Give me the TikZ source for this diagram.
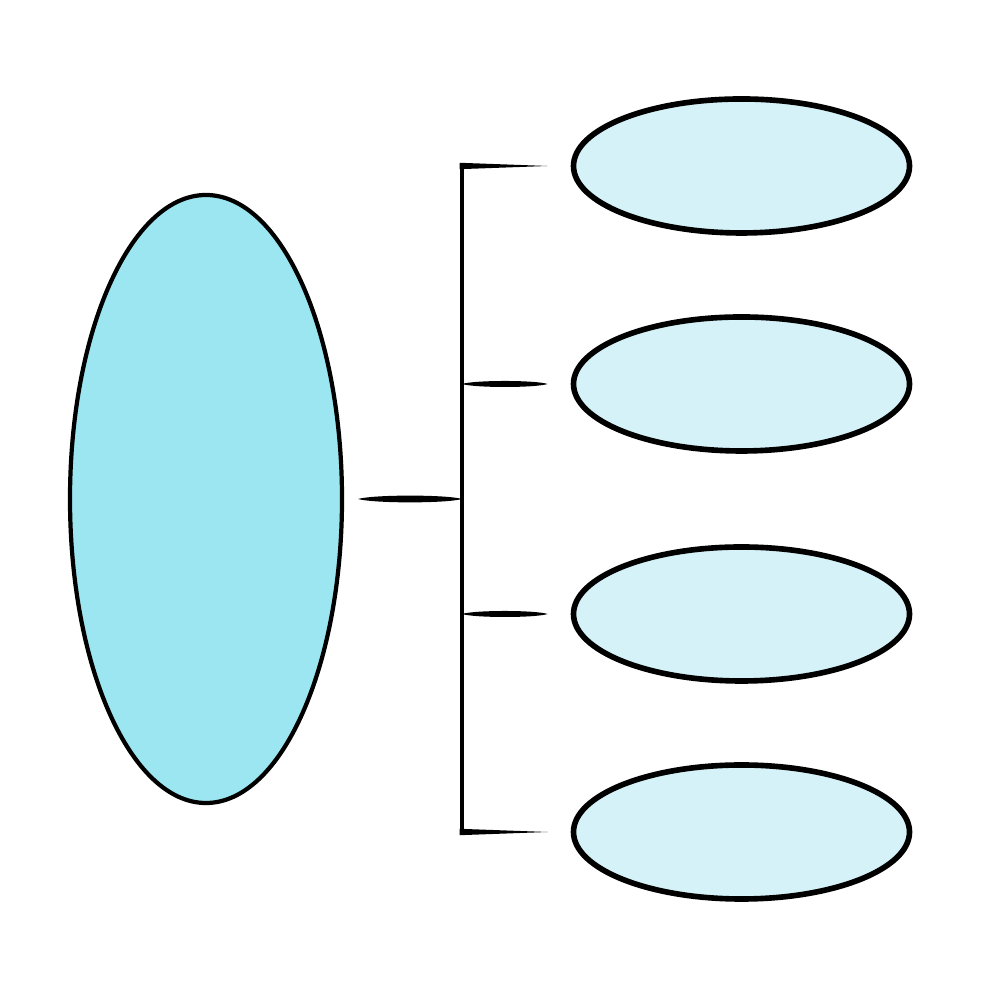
\documentclass[tikz,border=0pt]{standalone}
\usetikzlibrary{shapes.geometric,positioning,calc}
\begin{document}
\begin{tikzpicture}[
    elipse grande/.style={ellipse,draw,line width=1.2pt,fill=grande,
        minimum width=2.72cm,minimum height=6.08cm,inner sep=0pt},
    elipse chica/.style={ellipse,draw,line width=1.6pt,fill=chica,
        minimum width=3.36cm,minimum height=1.34cm,inner sep=0pt},
    linea/.style={line width=1.3pt}]
    %colores
    \definecolor{grande}{RGB}{156,230,242}
    \definecolor{chica}{RGB}{212,242,248}
    \useasboundingbox (0,0) rectangle (10,10);

    % Elipse grande
    \node[elipse grande] (centro) at (2.06,5.01) {};

    % Elipses chicas
    \foreach \y/\n in {8.34/1,6.16/2,3.86/3,1.68/4}
        \node[elipse chica] (e\n) at (7.415,\y) {};

    % Tronco vertical
    \coordinate (tronco) at (4.62,5.01);
    \draw[linea] (tronco |- e1) -- (tronco |- e4);

    % Ramal de la elipse grande
    \coordinate (ini) at ($(centro.east)+(0.14,0)$);
    \fill (ini) .. controls ($(ini)!0.15!(tronco)+(0,0.045)$) and ($(ini)!0.85!(tronco)+(0,0.045)$) .. (tronco)
        .. controls ($(ini)!0.85!(tronco)+(0,-0.045)$) and ($(ini)!0.15!(tronco)+(0,-0.045)$) .. (ini);

    % Ramales superior e inferior, con esquina
    \foreach \n in {1,4}
        \fill ($(tronco |- e\n)+(-0.023,0.032)$) -- ($(e\n.west)+(-0.23,0)$)
            -- ($(tronco |- e\n)+(-0.023,-0.032)$) -- cycle;

    % Ramales del medio
    \foreach \n in {2,3}{
        \coordinate (fin) at ($(e\n.west)+(-0.23,0)$);
        \fill (tronco |- e\n) .. controls ($(tronco |- e\n)!0.15!(fin)+(0,0.04)$) and ($(tronco |- e\n)!0.85!(fin)+(0,0.04)$) .. (fin)
            .. controls ($(tronco |- e\n)!0.85!(fin)+(0,-0.04)$) and ($(tronco |- e\n)!0.15!(fin)+(0,-0.04)$) .. (tronco |- e\n);
    }
\end{tikzpicture}
\end{document}
